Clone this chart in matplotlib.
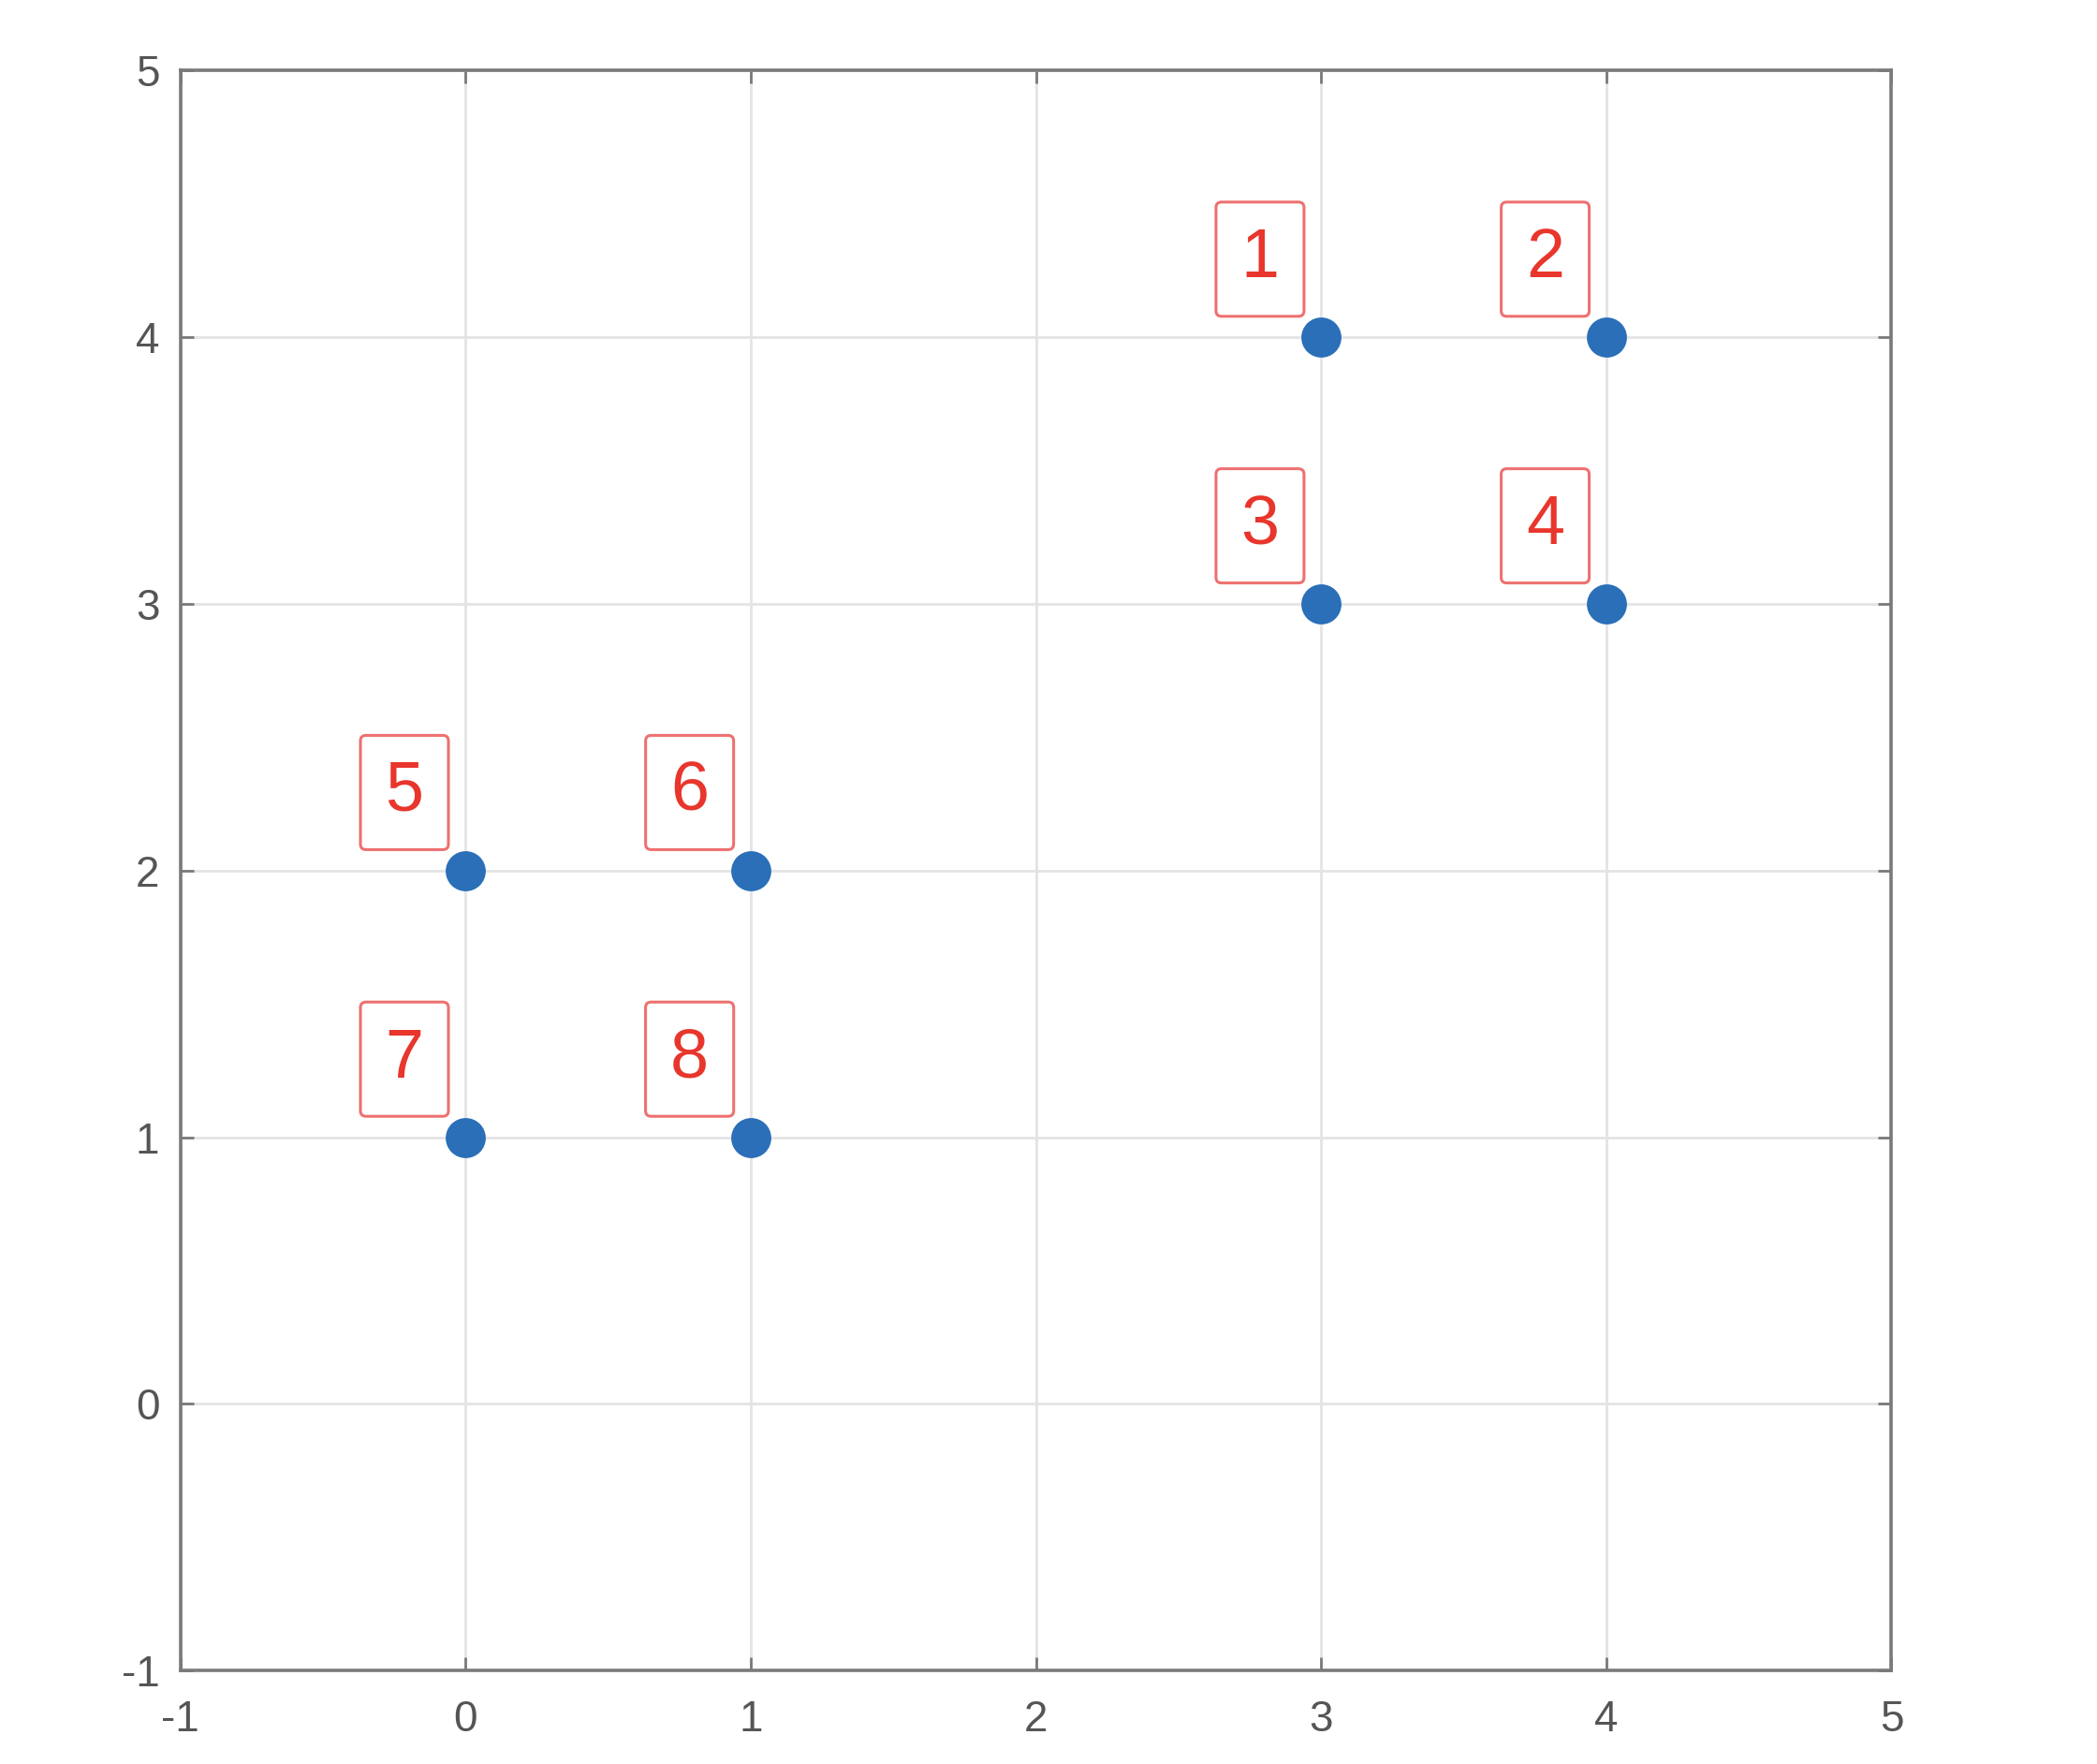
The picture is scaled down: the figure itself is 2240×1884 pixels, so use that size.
import numpy as np
import matplotlib
matplotlib.use("Agg")
import matplotlib.pyplot as plt

plt.rcParams['font.family'] = ['Liberation Sans', 'DejaVu Sans']
plt.rcParams['axes.unicode_minus'] = False

# datos
x = [3, 4, 3, 4, 0, 1, 0, 1]
y = [4, 4, 3, 3, 2, 2, 1, 1]
etiquetas = ['1', '2', '3', '4', '5', '6', '7', '8']
ticks = [-1, 0, 1, 2, 3, 4, 5]

fig = plt.figure(figsize=(22.4, 18.84), dpi=100)
ax = fig.add_axes([0.086, 0.053, 0.816, 0.907])

ax.scatter(x, y, s=950, color='#2a6fb8', zorder=3, linewidths=0)

# etiquetas con caja roja arriba a la izquierda de cada punto
for xi, yi, t in zip(x, y, etiquetas):
    ax.annotate(t, (xi, yi), xytext=(-47, 60), textcoords='offset points',
                ha='center', va='center', fontsize=53, color='#e8362c',
                bbox=dict(boxstyle='round,pad=0.36,rounding_size=0.08',
                          fc='white', ec='#ee7070', lw=2.2),
                zorder=4)

ax.set_xlim(-1, 5)
ax.set_ylim(-1, 5)
ax.set_xticks(ticks)
ax.set_yticks(ticks)
ax.grid(True, color='#e4e4e4', lw=2)
ax.set_axisbelow(True)

for s in ax.spines.values():
    s.set_color('#7a7a7a')
    s.set_linewidth(2.6)

ax.tick_params(direction='in', length=10, width=2, color='#7a7a7a',
               top=True, right=True, labelsize=33, labelcolor='#555555')
ax.tick_params(axis='x', pad=22)
ax.tick_params(axis='y', pad=16)

fig.savefig('out.png', dpi=100, facecolor='white')
